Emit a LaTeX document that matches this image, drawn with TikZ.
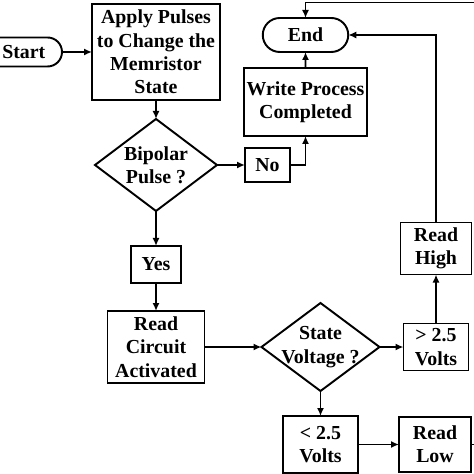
\documentclass[tikz,border=0pt]{standalone}
\usepackage{fontspec}
\setmainfont{Liberation Serif}
\usetikzlibrary{positioning, arrows.meta, shapes.geometric, shapes.misc}

\begin{document}
\begin{tikzpicture}[
        node distance=0.5cm,
        every node/.style={font=\bfseries\fontsize{11.3}{13.3}\selectfont, align=center, outer sep=0pt},
        terminal/.style={rounded rectangle, draw, line width=1.1pt, inner sep=1pt},
        process/.style={rectangle, draw, line width=1.1pt, inner sep=1pt},
        decision/.style={diamond, aspect=1.34, draw, line width=1.1pt, inner sep=-2pt},
        edge/.style={-{Latex[length=1.6mm, width=1.4mm]}, line width=1.1pt}
    ]
        \useasboundingbox (0,0) rectangle (9.48,-9.48);
        \clip (0,0) rectangle (9.48,-9.48);
        % Write path
        \node[process, minimum width=2.56cm, minimum height=1.92cm] (apply) at (3.12,-1.04) {Apply Pulses\\to Change the\\Memristor\\State};
        \node[terminal, minimum width=1.6cm, minimum height=0.58cm, left=0.6cm of apply] (start) {Start};
        \node[decision, minimum width=2.44cm, minimum height=1.84cm, below=0.38cm of apply] (bipolar) {Bipolar\\Pulse ?};
        \node[process, minimum width=0.9cm, minimum height=0.68cm, right=0.56cm of bipolar] (no) {No};
        \node[process, minimum width=2.46cm, minimum height=1.36cm] (write) at (6.11,-2.04) {Write Process\\Completed};
        \node[terminal, minimum width=1.78cm, minimum height=0.68cm, above=0.32cm of write] (end) {End};
        % Read path
        \node[process, minimum width=1.0cm, minimum height=0.74cm, below=0.7cm of bipolar] (yes) {Yes};
        \node[process, minimum width=1.94cm, minimum height=1.44cm, below=0.56cm of yes] (circuit) {Read\\Circuit\\Activated};
        \node[decision, minimum width=2.36cm, minimum height=1.76cm, right=1.14cm of circuit] (state) {State\\Voltage ?};
        \node[process, minimum width=1.3cm, minimum height=0.94cm, right=0.48cm of state] (gt) {> 2.5\\Volts};
        \node[process, minimum width=1.42cm, minimum height=1.04cm, above=0.98cm of gt] (high) {Read\\High};
        \node[process, minimum width=1.5cm, minimum height=1.14cm, below=0.5cm of state] (lt) {< 2.5\\Volts};
        \node[process, minimum width=1.44cm, minimum height=1.1cm, right=0.82cm of lt] (low) {Read\\Low};
        \coordinate (loopback) at (9.9,-0.05);
        % Edges: write path
        \draw[edge] (start) -- (apply);
        \draw[edge] (apply) -- (bipolar);
        \draw[edge] (bipolar) -- (no);
        \draw[edge] (no.east) -| (write.south);
        \draw[edge] (write) -- (end);
        % Edges: read path
        \draw[edge] (bipolar) -- (yes);
        \draw[edge] (yes) -- (circuit);
        \draw[edge] (circuit) -- (state);
        \draw[edge] (state) -- (gt);
        \draw[edge] (gt) -- (high);
        \draw[edge] (state) -- (lt);
        \draw[edge] (lt) -- (low);
        \draw[edge] (high.north) |- (end.east);
        \draw[edge] (low.east) -| (loopback) -| (end.north);
\end{tikzpicture}
\end{document}
